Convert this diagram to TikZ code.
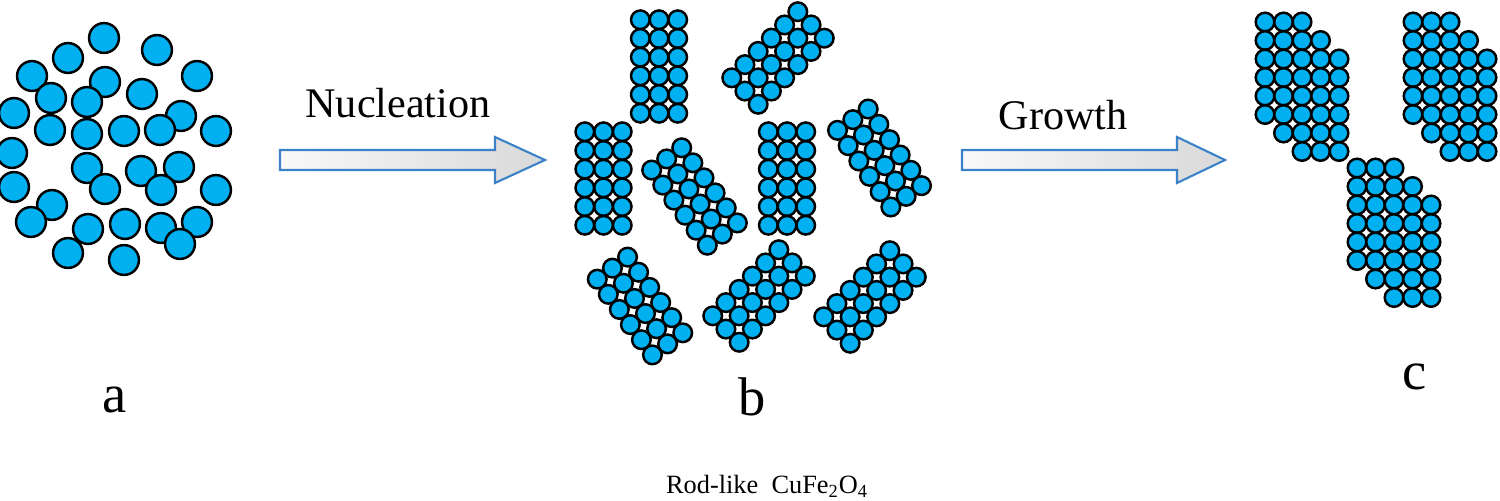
\documentclass[tikz,border=0pt]{standalone}
\usepackage{fontspec}
\setmainfont{Liberation Serif}
\definecolor{ball}{RGB}{0,176,240}
\definecolor{arr}{RGB}{60,130,200}
\tikzset{
  dot/.style={circle,fill=ball,draw=black,line width=1.4pt,minimum size=17pt,inner sep=0pt},
  bead/.style={fill=ball,draw=black,line width=1.4pt},
  lbl/.style={font=\fontsize{31}{31}\selectfont},
  arrlbl/.style={font=\fontsize{24}{24}\selectfont},
  blockarrow/.style={draw=arr,line width=1.2pt,left color=gray!5,right color=gray!30}
}
\newcommand{\rodgrid}[4]{%
  \foreach \i in {-1,0,1}{\foreach \j in {-2.5,-1.5,-0.5,0.5,1.5,2.5}{%
    \pgfmathsetmacro{\px}{#1+18.7*(\i*(-(#4))+\j*(#3))}%
    \pgfmathsetmacro{\py}{#2+18.7*(\i*(#3)+\j*(#4))}%
    \fill[bead] (\px,\py) circle (9.3);}}}
\newcommand{\cluster}[2]{%
  \foreach \r/\a/\b in {0/0/2,1/0/3,2/0/4,3/0/4,4/0/4,5/0/4,6/1/4,7/2/4}{%
    \foreach \c in {\a,...,\b}{%
      \pgfmathsetmacro{\px}{#1+18.5*\c}\pgfmathsetmacro{\py}{#2+18.5*\r}%
      \fill[bead] (\px,\py) circle (9.3);}}}
\begin{document}
\begin{tikzpicture}[x=0.02cm,y=-0.02cm]
\useasboundingbox (0,0) rectangle (1500,500);
% panel a
\foreach \x/\y [count=\k] in {104/38,157/50,68/58,197/76,32/76,105/82,51/98,87/102,142/94,14/113,181/116,50/130,87/134,124/131,160/130,216/131,12/153,87/168,141/171,179/167,14/187,52/205,105/189,161/190,216/190,31/222,88/229,125/224,161/228,197/222,68/253,124/260,180/244}
  \node[dot] (d\k) at (\x,\y) {};
% panel b
\rodgrid{659}{66.5}{0}{1}
\rodgrid{778}{58}{-0.707}{0.707}
\rodgrid{603.5}{178.5}{0}{1}
\rodgrid{694.5}{196.5}{0.595}{0.804}
\rodgrid{787}{178.5}{0}{1}
\rodgrid{879.5}{158}{0.57}{0.82}
\rodgrid{640}{306}{0.59}{0.81}
\rodgrid{759}{296}{-0.707}{0.707}
\rodgrid{870}{297}{-0.707}{0.707}
% panel c
\cluster{1265}{22}
\cluster{1413}{22}
\cluster{1357}{168}
% arrows
\draw[blockarrow] (280,150) -- (495,150) -- (495,137) -- (545,160) -- (495,183) -- (495,170) -- (280,170) -- cycle;
\draw[blockarrow] (962,150) -- (1177,150) -- (1177,137) -- (1225,160) -- (1177,183) -- (1177,170) -- (962,170) -- cycle;
\node[arrlbl] (nuc) at (398,103) {Nucleation};
\node[arrlbl] (gro) at (1063,115) {Growth};
\node[lbl] (la) at (115,400) {a};
\node[lbl] (lb) at (752,397) {b};
\node[lbl] (lc) at (1415,377) {c};
\node[font=\fontsize{15}{15}\selectfont] (rod) at (767,486) {Rod-like\ \ CuFe\textsubscript{2}O\textsubscript{4}};
\end{tikzpicture}
\end{document}
